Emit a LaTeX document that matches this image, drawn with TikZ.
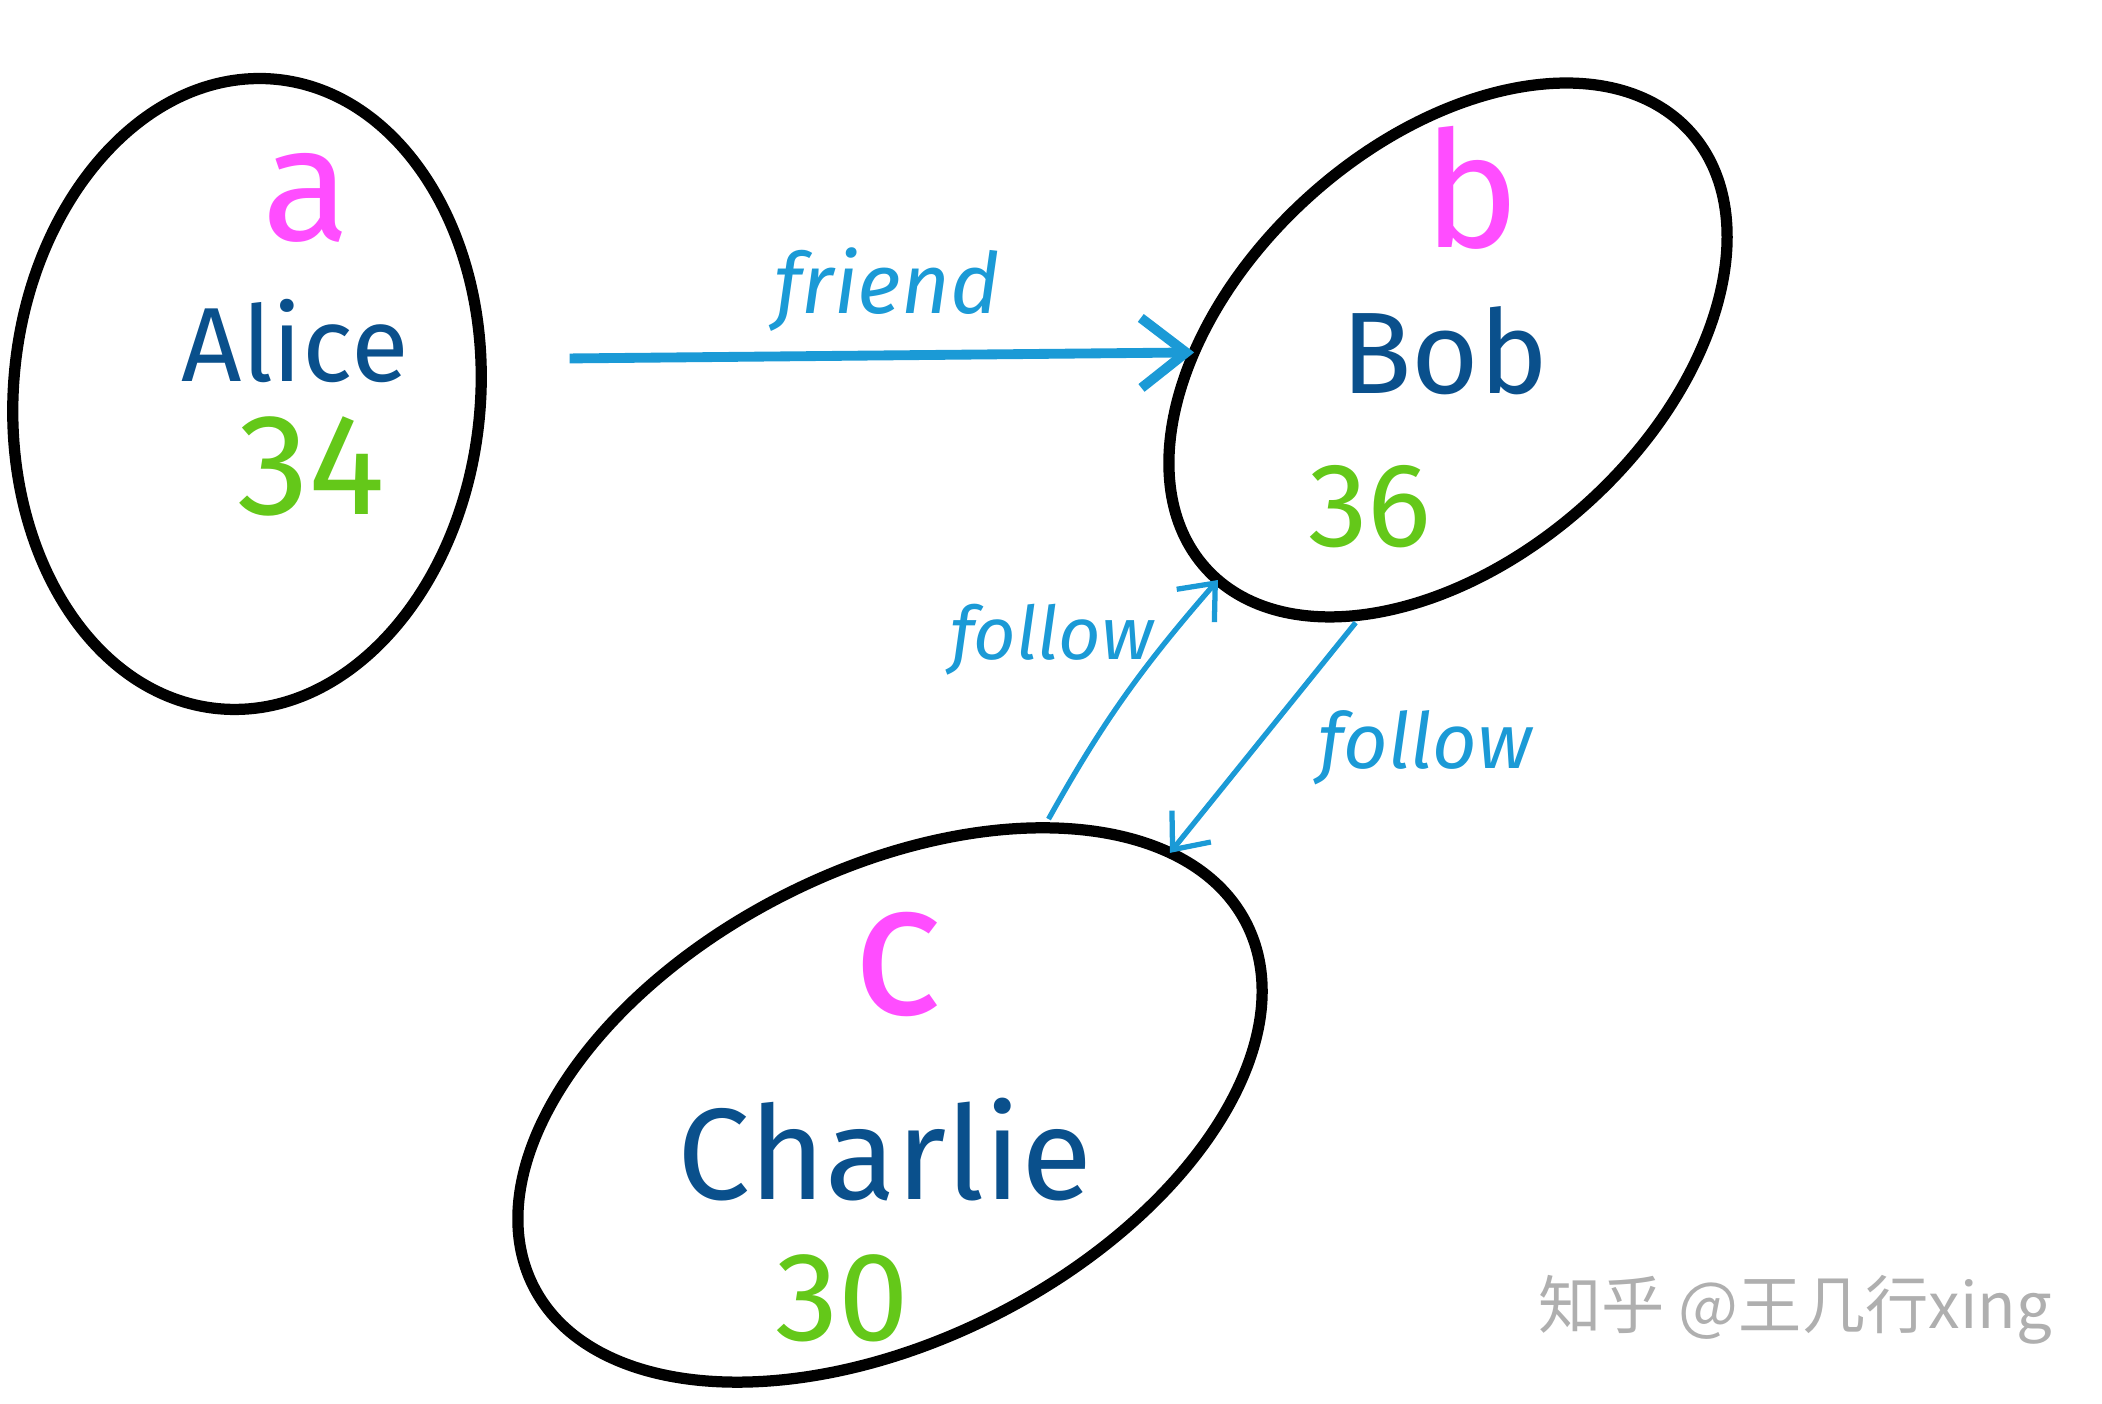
\documentclass[tikz,border=0pt]{standalone}
\usepackage{fontspec}
\setmainfont{Fira Sans}
\newfontfamily\cjk{Noto Sans CJK SC}
\usetikzlibrary{shapes.geometric,arrows.meta}

\definecolor{idpink}{RGB}{255,77,255}
\definecolor{nameblue}{RGB}{10,80,140}
\definecolor{agegreen}{RGB}{100,200,25}
\definecolor{edgeblue}{RGB}{27,154,214}
\definecolor{markgray}{RGB}{175,175,175}

\begin{document}
\begin{tikzpicture}[
    person/.style={draw, ellipse, line width=3.2pt, inner sep=0pt, outer sep=0pt},
    vid/.style={text=idpink, font=\fontsize{46}{46}\selectfont},
    vname/.style={text=nameblue, font=\fontsize{33}{33}\selectfont},
    vage/.style={text=agegreen, font=\fontsize{38}{38}\selectfont},
    edgelbl/.style={text=edgeblue, font=\fontsize{21}{21}\selectfont\itshape},
    friendarrow/.style={-{Straight Barb[length=4.5mm,width=7mm]}, edgeblue, line width=2.8pt, shorten <=0.9cm},
    followarrow/.style={-{Straight Barb[length=3mm,width=5mm]}, edgeblue, line width=1.5pt, shorten <=1mm}]
    \useasboundingbox (0,0) rectangle (21.02,14.04);

    % Defining the coordinates
    \coordinate (A) at (2.47, 10.10);
    \coordinate (B) at (14.48, 10.54);
    \coordinate (C) at (8.90, 2.99);

    % Vertices
    \node[person, minimum width=4.67cm, minimum height=6.32cm, rotate=-5] (alice) at (A) {};
    \node[person, minimum width=6.52cm, minimum height=4.14cm, rotate=42] (bob) at (B) {};
    \node[person, minimum width=8.0cm, minimum height=4.7cm, rotate=27] (charlie) at (C) {};

    % Adding labels
    \node[vid] (aid) at (3.06, 12.06) {a};
    \node[vname, font=\fontsize{30}{30}\selectfont] (aname) at (2.95, 10.63) {Alice};
    \node[vage, font=\fontsize{41}{41}\selectfont] (aage) at (3.11, 9.38) {34};
    \node[vid] (bid) at (14.71, 12.16) {b};
    \node[vname] (bname) at (14.45, 10.53) {Bob};
    \node[vage, font=\fontsize{34}{34}\selectfont] (bage) at (13.70, 8.97) {36};
    \node[vid, font=\fontsize{54}{54}\selectfont] (cid) at (8.98, 4.39) {c};
    \node[vname, font=\fontsize{37}{37}\selectfont] (cname) at (8.85, 2.54) {Charlie};
    \node[vage, font=\fontsize{36}{36}\selectfont] (cage) at (8.42, 1.06) {30};

    % Drawing edges
    \draw[friendarrow] ([yshift=5.5mm]alice.east) -- node[edgelbl, font=\fontsize{24}{24}\selectfont\itshape, pos=0.57, above=2pt] {friend} (bob);
    \draw[followarrow] (charlie.34) to[bend left=6] node[edgelbl, pos=0.76, left=0mm] {follow} (bob.183);
    \draw[followarrow] (bob.210) -- node[edgelbl, font=\fontsize{22}{22}\selectfont\itshape, pos=0.56, right=5mm] {follow} (charlie.15);

    % Watermark
    \node[text=markgray, font=\cjk\fontsize{18}{18}\selectfont] (mark) at (17.95, 0.94) {知乎 @王几行xing};
\end{tikzpicture}
\end{document}
